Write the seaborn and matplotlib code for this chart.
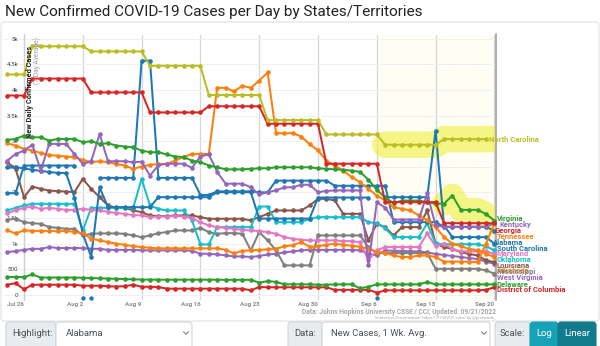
import numpy as np
import pandas as pd
import matplotlib
matplotlib.use("Agg")
import matplotlib.pyplot as plt
import matplotlib.dates as mdates
import matplotlib.transforms as mtrans
from matplotlib.patches import FancyBboxPatch
from matplotlib.lines import Line2D
import seaborn as sns

nan = np.nan
dates = pd.date_range("2022-07-24", "2022-09-20", freq="D")  # 59 days

north_carolina = [4300]*3 + [4850]*7 + [4750]*7 + [4470]*7 + [3900]*7 + [3410]*7 + [3130]*7 + [2930]*7 + [3040]*6 + [nan]
georgia = [3890]*3 + [4220]*7 + [3950]*7 + [3560]*7 + [3680]*7 + [3340]*7 + [2560]*7 + [1810]*7 + [1400]*7
virginia = [3025, 3043, 3108, 3075, 3075, 3010, 3043, 3043, 3043, 2978, 2998, 2946, 2959, 2913, 2894, 2881, 2816, 2784, 2784, 2740,
            2700, 2690, 2620, 2590, 2525, 2490, 2450, 2450, 2450, 2460, 2470, 2470, 2490, 2490, 2490, 2490, 2490, 2470, 2460, 2450,
            2440, 2425, 2400, 2250, 2050, 1900, 1790, 1840, 1840, 1840, 1810, 1780, 1780, 1940, 1660, 1660, 1660, 1580, 1450]
kentucky = [2620, 2750, 2816, 2930, 2426, 2946, 2946, 2946, 2750, 2556, 2608, 3140, 2608, 2608, 2608, 2590, 2600, 2330, 2530, 2560,
            2560, 2560, 2480, 2700, 2740, 2400, 2170, 2170, 2170, 2100, 1960, 2004, 2040, 2100, 2100, 2150, 2150, 2004, 2030, 2038,
            2038, 2038, 2038, 577, 1810, 1700, 1470, 1470, 1470, 1470, 1980, 1356, 1330, 1330, 1330, 1330, 1330, 1330, 1400]
arkansas = [2960, 2913, 2850, 2816, 2770, 2730, 2715, 2700, 2686, 2634, 2590, 2608, 2590, 2556, 2524, 2460, 2505, 2537, 2556, 2556,
            2620, 2690, 2750, 2750, 2750,
            4040, 4040, 3970, 4080, 4040, 4180, 4340,
            3160, 3150, 3160, 3090, 2940, 2820, 2620, 2520,
            2425, 2300, 2200, 2070, 1940, 1843, 1712, 1680, 1648, 1550, 1453, 1324, 1130, 1000, 950, 900, 870, 805, 740]
tennessee = [1260, 1200, 1260, 1250, 1250, 1250, 1240, 1250, 1230, 1200, 1100, 1064, 1030, 1000, 980, 950, 934, 920, 910, 908,
             908, 908, 908, 908, 908, 908, 880, 810, 860, 870, 880, 890, 900, 950, 970, 1030, 940, 950, 980, 1000,
             980, 960, 940, 900, 840, 820, 770, 740, 740, 770, 770, 740, 650, 650, 650, 650, 640, 1000, 1400]
alabama = [1985]*2 + [2524]*7 + [nan]*2 + [2284]*5 + [4570]*2 + [2284]*5 + [1950]*2 + [2020]*5 + [2000]*2 + [2230]*7 + [2130]*7 + [1420]*6 + [1330]*6 + [1250]
south_carolina = [2490, 2490, 2470, 2440, 2420, 2400, 2380, 2380, 1900, 1200, 740, 2100] + [1712]*6 + [1907]*7 + [2004]*5 + [1490]*7 + [1900]*7 + [nan] + [1907]*6 + [3205, 1356] + [1128]*5 + [1000]
maryland = [1596, 1648, 1700, 1725, 1680, 1700, 1680, 1660, 1660, 1680, 1660, 1648, 1620, 1600, 1580, 1560, 1550, 1520, 1530, 1530,
            1540, 1530, 1500, 1420, 1355, 1323, 1310, 1290, 1270, 1258, 1245, 1226, 1193, 1128, 1096, 1076, 1064, 1064, 1064, 1064,
            1050, 1050, 1030, 675, 870, 935, 935, 935, 935, 935, 1200, 950, 1000, 900, 850, 850, 850, 850, 800]
oklahoma = [1648, 1700, 1745, 1778, 1778, 1778, 1778, 1778, 1778, 1260, 1700, 1700, 1700, 1700, 1700, 1700, 2264, 1745, 1680, 1648,
            1648, 1648, 1453, 986, 986, 1323, 1323, 1323, 1323, 1323, 1725, 1725, 1420, 1420, 1420, 1420, 1486, 1518, 1518, 1518,
            1518, 1518, 1518, 1420, 1400, 1300, 1130, 1130, 1130, 1130, 1395, 1005, 990, 990, 990, 990, 990, 950, 870]
louisiana = [2590, 2460, 1907, 2115, 2070, 2037, 2024, 2018, 2005, 2264, 2070, 1907, 1745, 1700, 1700, 1648, 1615, 1550, 1537, 1537,
             1550, 1550, 1550, 1518, 1486, 1486, 1486, 1486, 1486, 1453, 1518, 1583, 1648, 1648, 1648, 1648, 1745, 1875, 1875, 1843,
             1583, 1583, 1583, 1064, 1388, 1323, 1160, 1323, 1323, 1323, 1648, 1000, 935, 900, 835, 800, 770, 675, 640]
mississippi = [1467, 1486, 1420, 1400, 1388, 1323, 1310, 1290, 1290, 1160, 1193, 1200, 1200, 1200, 1193, 1161, 1128, 1160, 1206, 1226,
               1258, 1258, 1258, 1310, 1226, 1193, 1206, 1206, 1193, 869, 1226, 1064, 869, 577, 577, 577, 577, 1161, 1161, 1161,
               1161, 1161, 1161, 930, 817, 817, 817, 817, 817, 817, 817, 510, 510, 510, 510, 510, 510, 480, 415]
west_virginia = [836, 855, 880, 900, 900, 935, 915, 915, 915, 915, 900, 900, 880, 880, 880, 880, 870, 870, 870, 870,
                 870, 870, 860, 804, 804, 790, 772, 752, 752, 740, 760, 790, 804, 830, 850, 870, 880, 880, 880, 880,
                 880, 880, 870, 804, 770, 870, 860, 860, 850, 850, 830, 800, 780, 760, 740, 720, 700, 650, 610]
delaware = [350, 350, 350, 400, 340, 340, 340, 340, 340, 335, 330, 325, 320, 315, 310, 305, 300, 300, 298, 298,
            298, 298, 298, 298, 298, 298, 295, 295, 295, 295, 240, 270, 255, 207, 207, 207, 207, 200, 200, 207,
            207, 207, 130, 160, 207, 207, 207, 207, 207, 207, 250, 207, 207, 207, 207, 207, 207, 207, 207]
dc = [200, 230, 110, 200, 200, 200, 200, 200, 200, 180, 180, 180, 170, 165, 170, 200, 160, 160, 155, 123,
      123, 123, 123, 123, 123, 123, 123, 123, 123, 90, 155, 150, 150, 150, 150, 150, 150, 150, 150, 100,
      100, 100, 100, 100, 45, 90, 90, 90, 90, 90, 90, 90, 90, 90, 90, 90, 90, 100, 150]

states = ["North Carolina", "Georgia", "Virginia", "Kentucky", "Arkansas", "Tennessee", "Alabama",
          "South Carolina", "Maryland", "Oklahoma", "Louisiana", "Mississippi", "West Virginia",
          "Delaware", "District of Columbia"]
series = [north_carolina, georgia, virginia, kentucky, arkansas, tennessee, alabama, south_carolina,
          maryland, oklahoma, louisiana, mississippi, west_virginia, delaware, dc]
colors = ["#bcbd22", "#d62728", "#2ca02c", "#9467bd", "#ff7f0e", "#ff7f0e", "#1f77b4", "#1f77b4",
          "#e377c2", "#17becf", "#8c564b", "#7f7f7f", "#9467bd", "#2ca02c", "#d62728"]
# end-label vertical pixel positions (layout)
label_px = [139.5, 230.7, 218.3, 225, 270.5, 236.7, 242.7, 248.3, 254, 260, 265.7, 271.5, 277.3, 284.3, 290]
label_xoff = [0.35, 0.0, 0.25, 0.6, 0.3, 0.3, -0.15, 0.3, 0.3, 0.3, 0.3, 0.3, 0.3, 0.3, 0.3]

tick_dates = pd.date_range("2022-07-26", "2022-09-20", freq="7D")
tick_labels = ["Jul 26", "Aug 2", "Aug 9", "Aug 16", "Aug 23", "Aug 30", "Sep 6", "Sep 13", "Sep 20"]
y_ticks = [0, 500, 1000, 1500, 2000, 2500, 3000, 3500, 4000, 4500, 5000]
y_labels = ["0", "500", "1k", "1.5k", "2k", "2.5k", "3k", "3.5k", "4k", "4.5k", "5k"]

sns.set_theme(style="white")
plt.rcParams["font.family"] = ["Roboto", "DejaVu Sans"]

W, H = 600, 346
fig = plt.figure(figsize=(6, 3.46), dpi=100)
fig.patch.set_facecolor("white")
IDT = mtrans.IdentityTransform()

def fx(px):
    return px / W

def fy(py):
    return 1 - py / H

# card (behind everything)
fig.add_artist(FancyBboxPatch((1, H - 321), 598, 299, boxstyle="round,pad=0,rounding_size=3",
                              transform=IDT, fc="white", ec="#e2e2e2", lw=0.8, zorder=-10))

top_px, bot_px = 34.5, 300.1
ax = fig.add_axes([fx(4), fy(bot_px), (496 - 4) / W, (bot_px - top_px) / H])
ax.set_facecolor("white")
ax.set_zorder(1)

d0 = mdates.date2num(dates[0])
x_lo, x_hi = d0 - 0.38, d0 + 58.19
ax.set_xlim(x_lo, x_hi)
ax.set_ylim(-100, 5080)
ppu = (bot_px - top_px) / 5180.0

ax.axvspan(mdates.date2num(pd.Timestamp("2022-09-06")), x_hi, color="#fefef4", zorder=0, lw=0)

# glow highlights
nc_s = pd.Series(north_carolina, index=dates)
g_nc = nc_s.iloc[45:58]
g_nc = pd.concat([g_nc, pd.Series([g_nc.iloc[-1]], index=[dates[-1] + pd.Timedelta(hours=12)])])
sns.lineplot(x=g_nc.index, y=g_nc.values, color="#f0f03c", alpha=0.6, linewidth=19,
             solid_capstyle="round", solid_joinstyle="round", ax=ax, legend=False, zorder=1)
va_s = pd.Series(virginia, index=dates).iloc[52:]
va_s = pd.concat([va_s, pd.Series([va_s.iloc[-1] - 60], index=[dates[-1] + pd.Timedelta(hours=6)])])
sns.lineplot(x=va_s.index, y=va_s.values, color="#f0f03c", alpha=0.6, linewidth=17,
             solid_capstyle="round", solid_joinstyle="round", ax=ax, legend=False, zorder=1)

def draw(vals, color, z):
    s = pd.Series(vals, index=dates, dtype=float)
    ok = s.notna()
    grp = (~ok).cumsum()
    for _, seg in s[ok].groupby(grp[ok]):
        sns.lineplot(x=seg.index, y=seg.values, color=color, marker="o", markersize=3.3,
                     markeredgewidth=0, linewidth=1.45, ax=ax, legend=False, zorder=z)
    miss = s.index[~ok & (s.index < dates[-1])]
    if len(miss):
        sns.scatterplot(x=miss, y=[-55] * len(miss), color=color, s=10, linewidth=0,
                        ax=ax, legend=False, zorder=z, clip_on=False)

order = list(range(len(series)))[::-1]
for z, i in enumerate(order):
    draw(series[i], colors[i], 3 + z * 0.1)

ax.set_xlabel("")
ax.set_ylabel("")
# spine placement first (it resets ticks)
for k in ["top", "bottom"]:
    ax.spines[k].set_visible(False)
ax.spines["right"].set_color("#9a9a9a")
ax.spines["right"].set_linewidth(1.1)
ax.spines["left"].set_position(("data", mdates.date2num(tick_dates[0])))
ax.spines["left"].set_color("#cfcfcf")
ax.spines["left"].set_linewidth(0.9)

ax.set_xlim(x_lo, x_hi)
ax.set_ylim(-100, 5080)
ax.set_xticks(mdates.date2num(tick_dates))
ax.set_xticklabels(tick_labels, ha="right", fontsize=4.4, color="#8a8a8a", fontweight="bold")
ax.set_yticks(y_ticks)
ax.set_yticklabels(y_labels, fontsize=4.5, color="#444444")
ax.tick_params(axis="x", length=0, pad=1.5)
ax.tick_params(axis="y", length=3, width=0.6, color="#999999", pad=1)
ax.xaxis.grid(True, color="#d6d6d6", lw=0.9)
ax.yaxis.grid(True, color="#f0f0f0", lw=0.7)
ax.set_axisbelow(True)

# end labels
for i, name in enumerate(states):
    yv = (295.0 - label_px[i]) / ppu
    xv = d0 + (57 if i == 0 else 58) + label_xoff[i]
    ax.text(xv, yv, name, color=colors[i], fontsize=5.5, fontweight="bold", va="center",
            ha="left", clip_on=False, zorder=20)

# titles
fig.text(fx(5), fy(12), "New Confirmed COVID-19 Cases per Day by States/Territories",
         fontsize=11, color="#222222", va="center", ha="left")
fig.text(fx(30), fy(92), "New Daily Confirmed Cases", rotation=90, ha="center", va="center",
         fontsize=5.3, fontweight="bold", color="#222222", zorder=30)
fig.text(fx(37.5), fy(60), "(7-Day Average)", rotation=90, ha="center", va="center",
         fontsize=4.8, color="#9a9a9a", zorder=30)
fig.text(fx(496), fy(311.5), "Data: Johns Hopkins University CSSE / CCI; Updated: 09/21/2022",
         fontsize=4.8, fontweight="bold", color="#a8a8a8", ha="right", va="center")
fig.text(fx(496), fy(318.5), "Interactive Visualization: https://91-DIVOC.com/ by @profwade_",
         fontsize=3.1, color="#a8a8a8", ha="right", va="center")

# controls
def box(x0, x1, fc, ec="#ced4da"):
    fig.add_artist(FancyBboxPatch((x0, H - 350), x1 - x0, 28, boxstyle="round,pad=0,rounding_size=3",
                                  transform=IDT, fc=fc, ec=ec, lw=0.8, zorder=5))

def ctext(x, s, color="#495057", ha="left", size=6.8):
    fig.text(fx(x), fy(333), s, fontsize=size, color=color, ha=ha, va="center", zorder=6)

def chevron(x):
    y = H - 333
    fig.add_artist(Line2D([x - 2.5, x, x + 2.5], [y + 1.3, y - 1.3, y + 1.3], transform=IDT,
                          color="#6c757d", lw=0.7, zorder=6))

box(6, 56, "#e9ecef")
box(56, 192, "white")
ctext(12, "Highlight:")
ctext(66, "Alabama")
chevron(186)
box(288, 322, "#e9ecef")
box(322, 490, "white")
ctext(294, "Data:")
ctext(331, "New Cases, 1 Wk. Avg.")
chevron(484)
box(495, 530, "#e9ecef")
ctext(500, "Scale:")
box(530, 558, "#17a2b8", "#17a2b8")
box(558, 596, "#117a8b", "#117a8b")
ctext(544, "Log", color="white", ha="center")
ctext(577, "Linear", color="white", ha="center")

fig.savefig("out.png", dpi=100)
